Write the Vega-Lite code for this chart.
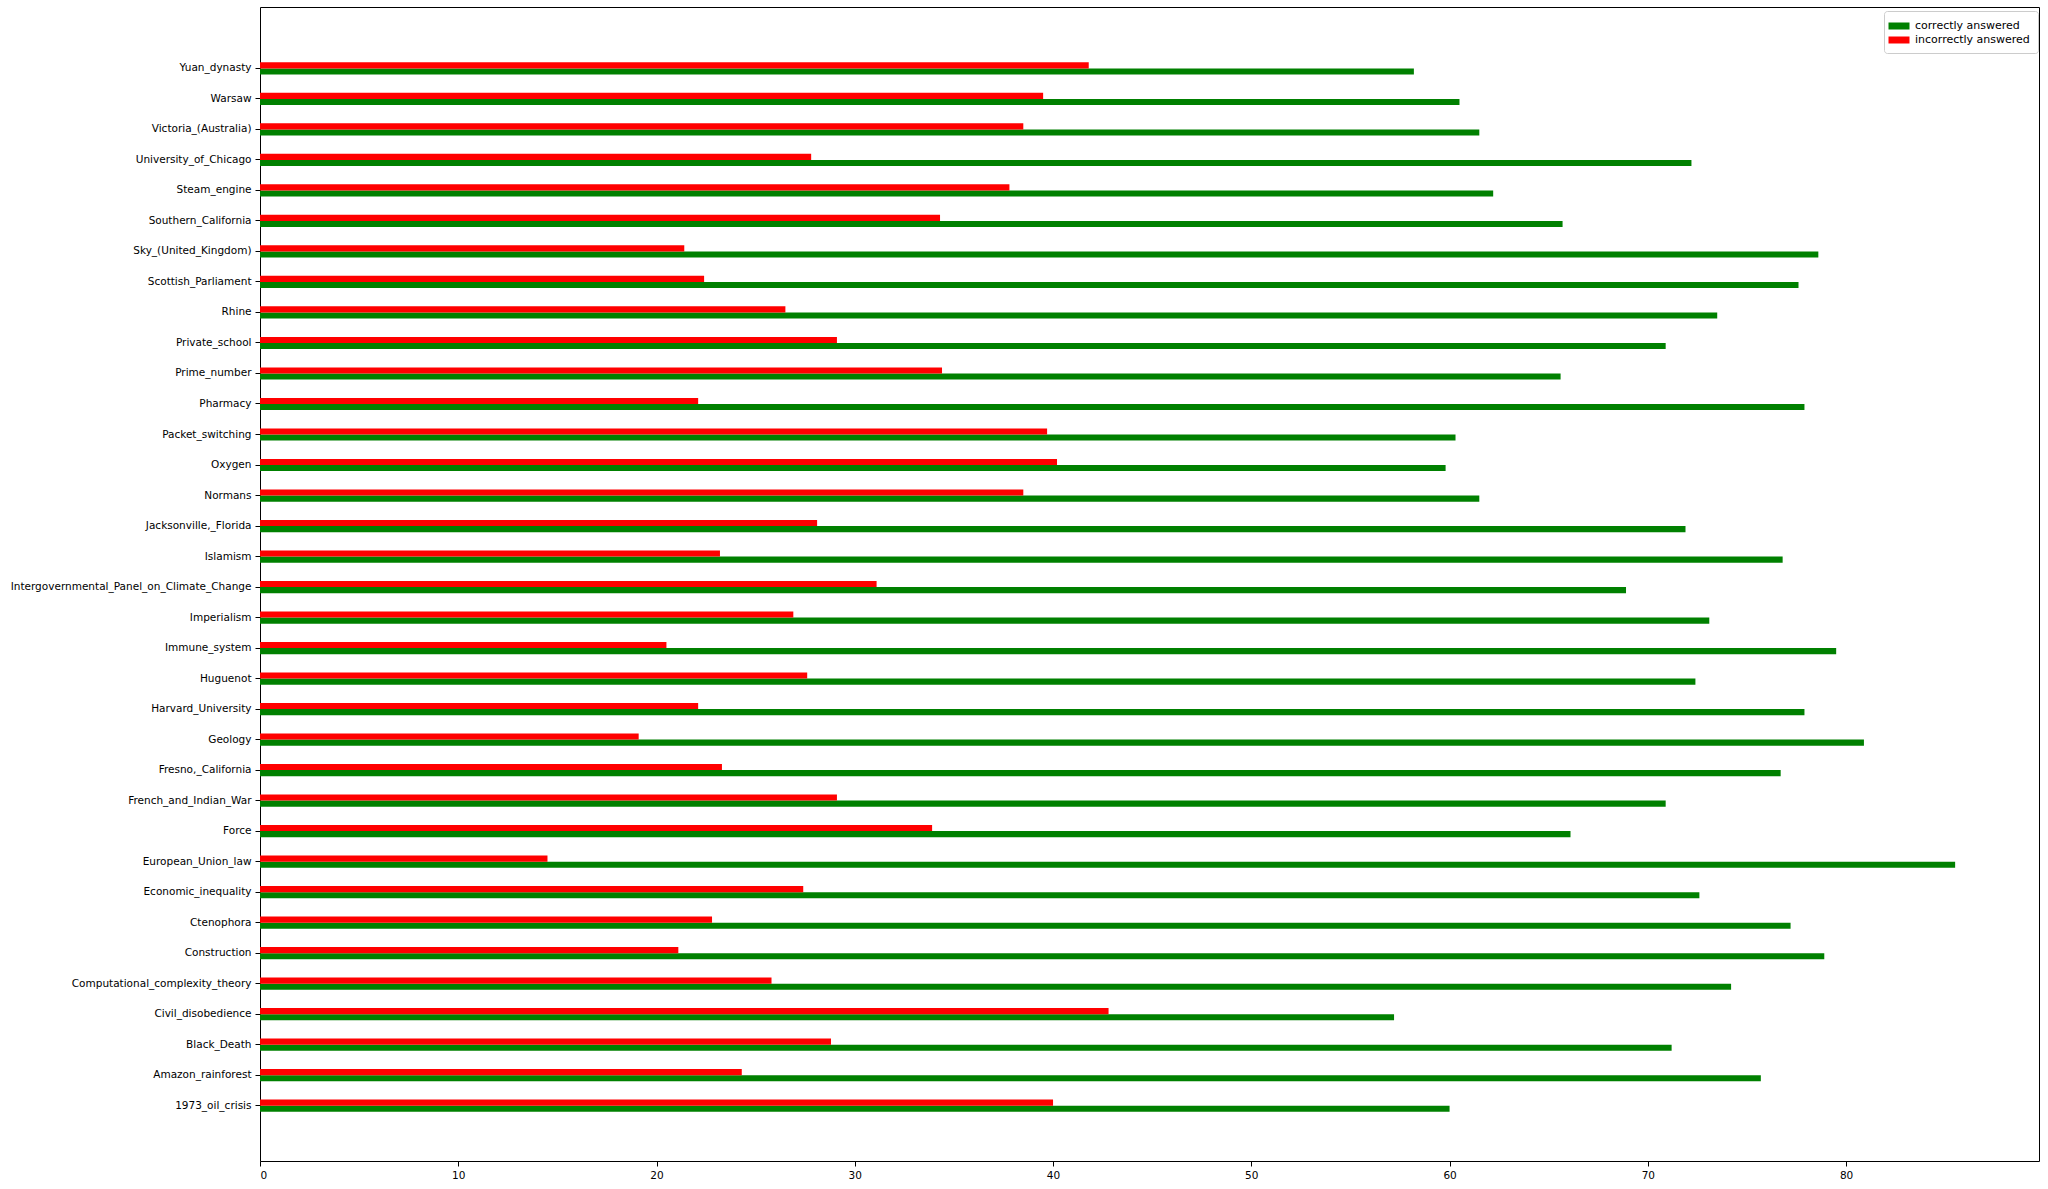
{
  "$schema": "https://vega.github.io/schema/vega-lite/v6.json",
  "autosize": {"type": "none"},
  "padding": {"left": 260, "top": 7, "right": 9, "bottom": 28},
  "width": 1779,
  "height": 1154,
  "background": "white",
  "config": {
    "font": "DejaVu Sans",
    "view": {"stroke": "#000000", "strokeWidth": 1},
    "axis": {
      "domain": false,
      "grid": false,
      "tickColor": "#000000",
      "tickSize": 5,
      "labelColor": "#000000",
      "labelFont": "DejaVu Sans",
      "labelFontSize": 10.5,
      "labelPadding": 4
    }
  },
  "data": {
    "values": [
      {"topic": "Yuan_dynasty", "answer": "correctly answered", "percent": 58.2},
      {"topic": "Yuan_dynasty", "answer": "incorrectly answered", "percent": 41.8},
      {"topic": "Warsaw", "answer": "correctly answered", "percent": 60.5},
      {"topic": "Warsaw", "answer": "incorrectly answered", "percent": 39.5},
      {"topic": "Victoria_(Australia)", "answer": "correctly answered", "percent": 61.5},
      {"topic": "Victoria_(Australia)", "answer": "incorrectly answered", "percent": 38.5},
      {"topic": "University_of_Chicago", "answer": "correctly answered", "percent": 72.2},
      {"topic": "University_of_Chicago", "answer": "incorrectly answered", "percent": 27.8},
      {"topic": "Steam_engine", "answer": "correctly answered", "percent": 62.2},
      {"topic": "Steam_engine", "answer": "incorrectly answered", "percent": 37.8},
      {"topic": "Southern_California", "answer": "correctly answered", "percent": 65.7},
      {"topic": "Southern_California", "answer": "incorrectly answered", "percent": 34.3},
      {"topic": "Sky_(United_Kingdom)", "answer": "correctly answered", "percent": 78.6},
      {"topic": "Sky_(United_Kingdom)", "answer": "incorrectly answered", "percent": 21.4},
      {"topic": "Scottish_Parliament", "answer": "correctly answered", "percent": 77.6},
      {"topic": "Scottish_Parliament", "answer": "incorrectly answered", "percent": 22.4},
      {"topic": "Rhine", "answer": "correctly answered", "percent": 73.5},
      {"topic": "Rhine", "answer": "incorrectly answered", "percent": 26.5},
      {"topic": "Private_school", "answer": "correctly answered", "percent": 70.9},
      {"topic": "Private_school", "answer": "incorrectly answered", "percent": 29.1},
      {"topic": "Prime_number", "answer": "correctly answered", "percent": 65.6},
      {"topic": "Prime_number", "answer": "incorrectly answered", "percent": 34.4},
      {"topic": "Pharmacy", "answer": "correctly answered", "percent": 77.9},
      {"topic": "Pharmacy", "answer": "incorrectly answered", "percent": 22.1},
      {"topic": "Packet_switching", "answer": "correctly answered", "percent": 60.3},
      {"topic": "Packet_switching", "answer": "incorrectly answered", "percent": 39.7},
      {"topic": "Oxygen", "answer": "correctly answered", "percent": 59.8},
      {"topic": "Oxygen", "answer": "incorrectly answered", "percent": 40.2},
      {"topic": "Normans", "answer": "correctly answered", "percent": 61.5},
      {"topic": "Normans", "answer": "incorrectly answered", "percent": 38.5},
      {"topic": "Jacksonville,_Florida", "answer": "correctly answered", "percent": 71.9},
      {"topic": "Jacksonville,_Florida", "answer": "incorrectly answered", "percent": 28.1},
      {"topic": "Islamism", "answer": "correctly answered", "percent": 76.8},
      {"topic": "Islamism", "answer": "incorrectly answered", "percent": 23.2},
      {"topic": "Intergovernmental_Panel_on_Climate_Change", "answer": "correctly answered", "percent": 68.9},
      {"topic": "Intergovernmental_Panel_on_Climate_Change", "answer": "incorrectly answered", "percent": 31.1},
      {"topic": "Imperialism", "answer": "correctly answered", "percent": 73.1},
      {"topic": "Imperialism", "answer": "incorrectly answered", "percent": 26.9},
      {"topic": "Immune_system", "answer": "correctly answered", "percent": 79.5},
      {"topic": "Immune_system", "answer": "incorrectly answered", "percent": 20.5},
      {"topic": "Huguenot", "answer": "correctly answered", "percent": 72.4},
      {"topic": "Huguenot", "answer": "incorrectly answered", "percent": 27.6},
      {"topic": "Harvard_University", "answer": "correctly answered", "percent": 77.9},
      {"topic": "Harvard_University", "answer": "incorrectly answered", "percent": 22.1},
      {"topic": "Geology", "answer": "correctly answered", "percent": 80.9},
      {"topic": "Geology", "answer": "incorrectly answered", "percent": 19.1},
      {"topic": "Fresno,_California", "answer": "correctly answered", "percent": 76.7},
      {"topic": "Fresno,_California", "answer": "incorrectly answered", "percent": 23.3},
      {"topic": "French_and_Indian_War", "answer": "correctly answered", "percent": 70.9},
      {"topic": "French_and_Indian_War", "answer": "incorrectly answered", "percent": 29.1},
      {"topic": "Force", "answer": "correctly answered", "percent": 66.1},
      {"topic": "Force", "answer": "incorrectly answered", "percent": 33.9},
      {"topic": "European_Union_law", "answer": "correctly answered", "percent": 85.5},
      {"topic": "European_Union_law", "answer": "incorrectly answered", "percent": 14.5},
      {"topic": "Economic_inequality", "answer": "correctly answered", "percent": 72.6},
      {"topic": "Economic_inequality", "answer": "incorrectly answered", "percent": 27.4},
      {"topic": "Ctenophora", "answer": "correctly answered", "percent": 77.2},
      {"topic": "Ctenophora", "answer": "incorrectly answered", "percent": 22.8},
      {"topic": "Construction", "answer": "correctly answered", "percent": 78.9},
      {"topic": "Construction", "answer": "incorrectly answered", "percent": 21.1},
      {"topic": "Computational_complexity_theory", "answer": "correctly answered", "percent": 74.2},
      {"topic": "Computational_complexity_theory", "answer": "incorrectly answered", "percent": 25.8},
      {"topic": "Civil_disobedience", "answer": "correctly answered", "percent": 57.2},
      {"topic": "Civil_disobedience", "answer": "incorrectly answered", "percent": 42.8},
      {"topic": "Black_Death", "answer": "correctly answered", "percent": 71.2},
      {"topic": "Black_Death", "answer": "incorrectly answered", "percent": 28.8},
      {"topic": "Amazon_rainforest", "answer": "correctly answered", "percent": 75.7},
      {"topic": "Amazon_rainforest", "answer": "incorrectly answered", "percent": 24.3},
      {"topic": "1973_oil_crisis", "answer": "correctly answered", "percent": 60.0},
      {"topic": "1973_oil_crisis", "answer": "incorrectly answered", "percent": 40.0}
    ]
  },
  "mark": {"type": "bar"},
  "encoding": {
    "y": {
      "field": "topic",
      "type": "nominal",
      "sort": null,
      "scale": {"range": [55.3, 1104.8], "paddingInner": 0.6, "paddingOuter": 0},
      "axis": {"title": null, "labelLimit": 400}
    },
    "yOffset": {
      "field": "answer",
      "type": "nominal",
      "sort": ["incorrectly answered", "correctly answered"],
      "scale": {"paddingInner": 0, "paddingOuter": 0}
    },
    "x": {
      "field": "percent",
      "type": "quantitative",
      "scale": {"domain": [0, 89.73], "nice": false, "zero": true},
      "axis": {"title": null, "values": [0, 10, 20, 30, 40, 50, 60, 70, 80]}
    },
    "color": {
      "field": "answer",
      "type": "nominal",
      "scale": {
        "domain": ["correctly answered", "incorrectly answered"],
        "range": ["#008000", "#ff0000"]
      },
      "legend": {
        "title": null,
        "orient": "none",
        "legendX": 1624,
        "legendY": 4,
        "fillColor": "white",
        "strokeColor": "#cccccc",
        "cornerRadius": 3,
        "padding": 8,
        "symbolType": "M-1.5,-0.5h3v1h-3z",
        "symbolSize": 196,
        "symbolStrokeWidth": 0,
        "labelOffset": 9,
        "rowPadding": 2,
        "labelFont": "DejaVu Sans",
        "labelFontSize": 11,
        "labelColor": "#000000"
      }
    }
  }
}
